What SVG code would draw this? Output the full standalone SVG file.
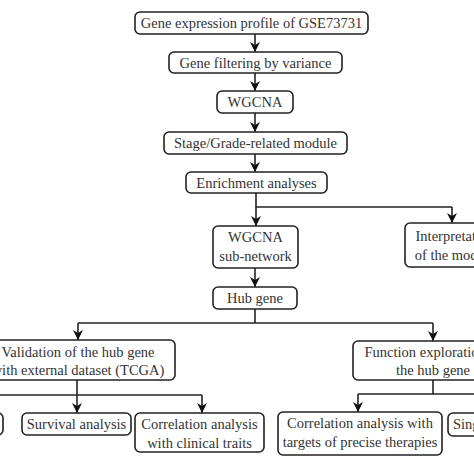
<svg xmlns="http://www.w3.org/2000/svg" width="474" height="474" viewBox="0 0 474 474">
<defs>
<style>
.box{fill:#fff;stroke:#222;stroke-width:1.6}
.t{font-family:"Liberation Serif","DejaVu Serif",serif;font-size:14.5px;fill:#333;text-anchor:middle}
.c{fill:none;stroke:#222;stroke-width:1.6}
</style>
<marker id="ah" viewBox="0 0 10 10" refX="10" refY="5" markerWidth="10" markerHeight="10" markerUnits="userSpaceOnUse" orient="auto">
<path d="M0,0 L10,5 L0,10 L3,5 Z" fill="#111"/>
</marker>
</defs>
<rect width="474" height="474" fill="#fff"/>
<g id="connectors">
<line class="c" x1="255" y1="34" x2="255" y2="52" marker-end="url(#ah)"/>
<line class="c" x1="255" y1="73" x2="255" y2="91" marker-end="url(#ah)"/>
<line class="c" x1="255" y1="113" x2="255" y2="132" marker-end="url(#ah)"/>
<line class="c" x1="255" y1="154" x2="255" y2="172" marker-end="url(#ah)"/>
<polyline class="c" points="256,193 256,207 452,207"/>
<line class="c" x1="256" y1="207" x2="256" y2="226" marker-end="url(#ah)"/>
<line class="c" x1="452" y1="207" x2="452" y2="223" marker-end="url(#ah)"/>
<line class="c" x1="255" y1="268" x2="255" y2="287" marker-end="url(#ah)"/>
<polyline class="c" points="255,309 255,323"/>
<line class="c" x1="78" y1="323" x2="433" y2="323"/>
<line class="c" x1="78" y1="323" x2="78" y2="340" marker-end="url(#ah)"/>
<line class="c" x1="433" y1="323" x2="433" y2="341" marker-end="url(#ah)"/>
<line class="c" x1="77" y1="380" x2="77" y2="395"/>
<line class="c" x1="-10" y1="395" x2="202" y2="395"/>
<line class="c" x1="77" y1="395" x2="77" y2="413" marker-end="url(#ah)"/>
<line class="c" x1="202" y1="395" x2="202" y2="413" marker-end="url(#ah)"/>
<line class="c" x1="433" y1="380" x2="433" y2="394"/>
<line class="c" x1="358" y1="394" x2="480" y2="394"/>
<line class="c" x1="358" y1="394" x2="358" y2="412" marker-end="url(#ah)"/>
</g>
<g id="n1"><rect class="box" x="135" y="12" width="233" height="22" rx="5"/><text class="t" x="251.5" y="28">Gene expression profile of GSE73731</text></g>
<g id="n2"><rect class="box" x="169" y="52" width="173" height="21" rx="5"/><text class="t" x="255.5" y="67.5">Gene filtering by variance</text></g>
<g id="n3"><rect class="box" x="217" y="91" width="76" height="22" rx="5"/><text class="t" x="255" y="107">WGCNA</text></g>
<g id="n4"><rect class="box" x="164" y="132" width="183" height="22" rx="5"/><text class="t" x="255.5" y="148">Stage/Grade-related module</text></g>
<g id="n5"><rect class="box" x="186" y="172" width="141" height="21" rx="5"/><text class="t" x="256.5" y="187.5">Enrichment analyses</text></g>
<g id="n6"><rect class="box" x="213" y="226" width="85" height="42" rx="5"/><text class="t" x="255.5" y="242">WGCNA</text><text class="t" x="255.5" y="261">sub-network</text></g>
<g id="n7"><rect class="box" x="405" y="223" width="100" height="44" rx="5"/><text class="t" x="455" y="241">Interpretation</text><text class="t" x="455" y="260">of the module</text></g>
<g id="n8"><rect class="box" x="213" y="287" width="84" height="22" rx="5"/><text class="t" x="255" y="303">Hub gene</text></g>
<g id="n9"><rect class="box" x="-30" y="340" width="205" height="40" rx="5"/><text class="t" x="78" y="357">Validation of the hub gene</text><text class="t" x="78" y="375">with external dataset (TCGA)</text></g>
<g id="n10"><rect class="box" x="353" y="341" width="160" height="39" rx="5"/><text class="t" x="433" y="357">Function exploration of</text><text class="t" x="433" y="375">the hub gene</text></g>
<g id="n11"><rect class="box" x="-60" y="413" width="63" height="22" rx="5"/></g>
<g id="n12"><rect class="box" x="22" y="413" width="109" height="22" rx="5"/><text class="t" x="76.5" y="429">Survival analysis</text></g>
<g id="n13"><rect class="box" x="135" y="413" width="129" height="39" rx="5"/><text class="t" x="199.5" y="429">Correlation analysis</text><text class="t" x="199.5" y="448">with clinical traits</text></g>
<g id="n14"><rect class="box" x="278" y="412" width="164" height="43" rx="5"/><text class="t" x="360" y="428">Correlation analysis with</text><text class="t" x="360" y="447">targets of precise therapies</text></g>
<g id="n15"><rect class="box" x="448" y="413" width="60" height="23" rx="5"/><text class="t" x="453" y="429" style="text-anchor:start">Single</text></g>
</svg>
